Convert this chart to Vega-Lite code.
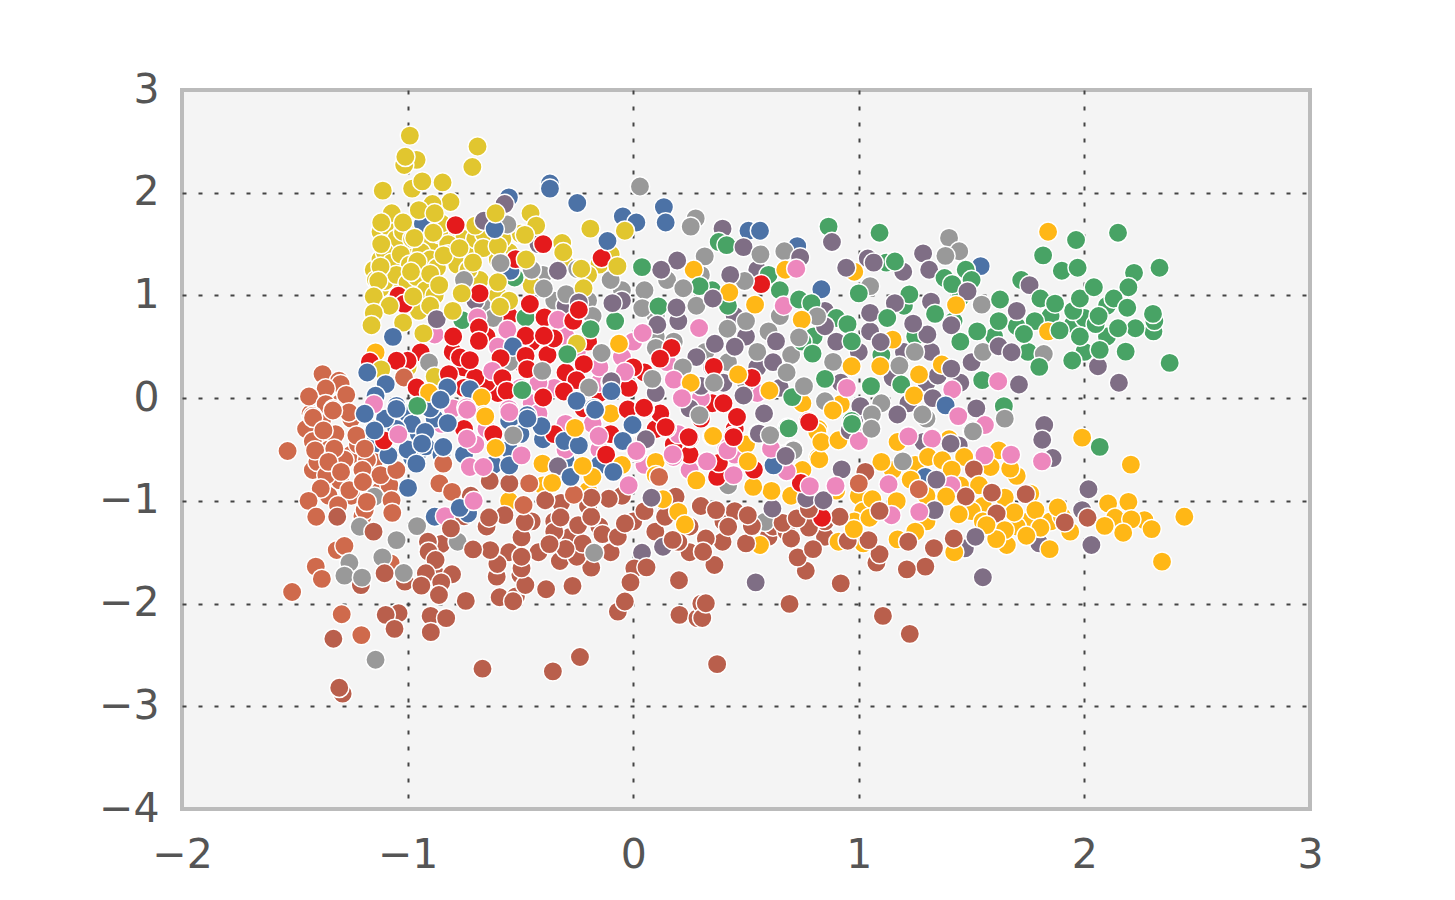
{
"$schema":"https://vega.github.io/schema/vega-lite/v6.json",
"width":1128,"height":719,
"autosize":{"type":"none"},
"padding":{"left":182,"top":90,"right":145,"bottom":91},
"background":"white",
"view":{"fill":"#f4f4f4","stroke":"#bbbbbb","strokeWidth":4},
"data":{"values":[
{"x":-0.65,"y":0.6,"c":"red"},{"x":-0.55,"y":0.8,"c":"red"},{"x":-0.45,"y":0.55,"c":"red"},{"x":-0.38,"y":0.42,"c":"red"},{"x":-0.3,"y":0.25,"c":"red"},{"x":-0.6,"y":0.05,"c":"red"},{"x":-0.65,"y":0.15,"c":"red"},{"x":-0.75,"y":0.3,"c":"red"},{"x":-0.15,"y":0.05,"c":"red"},{"x":-0.05,"y":0.2,"c":"red"},{"x":0.05,"y":0.25,"c":"red"},{"x":0.3,"y":-0.2,"c":"red"},{"x":0.35,"y":-0.05,"c":"red"},{"x":0.45,"y":-0.3,"c":"red"},{"x":-0.1,"y":-0.35,"c":"red"},{"x":0.1,"y":-0.3,"c":"red"},{"x":0.18,"y":-0.45,"c":"red"},
{"x":-0.45,"y":-0.05,"c":"pink"},{"x":-0.35,"y":0.1,"c":"pink"},{"x":-0.65,"y":-0.3,"c":"pink"},{"x":-0.85,"y":-0.25,"c":"pink"},{"x":-0.25,"y":0.45,"c":"pink"},{"x":-0.15,"y":0.15,"c":"pink"},{"x":0,"y":0.55,"c":"pink"},{"x":0.15,"y":0.35,"c":"pink"},{"x":0.3,"y":0,"c":"pink"},{"x":0.55,"y":0.05,"c":"pink"},{"x":-0.3,"y":-0.25,"c":"pink"},{"x":-0.15,"y":-0.5,"c":"pink"},{"x":0.05,"y":-0.65,"c":"pink"},{"x":0.25,"y":-0.7,"c":"pink"},{"x":0.45,"y":-0.55,"c":"pink"},
{"x":-0.35,"y":0.95,"c":"gray"},{"x":-0.2,"y":0.95,"c":"gray"},{"x":-0.05,"y":1.05,"c":"gray"},{"x":0.1,"y":0.8,"c":"gray"},{"x":0.18,"y":0.55,"c":"gray"},{"x":0.32,"y":0.45,"c":"gray"},{"x":0.42,"y":0.35,"c":"gray"},{"x":0.65,"y":0.8,"c":"gray"},{"x":0.6,"y":0.65,"c":"gray"},{"x":0.7,"y":0.42,"c":"gray"},{"x":0.15,"y":1.15,"c":"gray"},{"x":0.3,"y":1.2,"c":"gray"},{"x":-0.4,"y":1.2,"c":"gray"},{"x":-0.65,"y":0.9,"c":"gray"},
{"x":0.5,"y":0.6,"c":"purple"},{"x":0.55,"y":0.3,"c":"purple"},{"x":0.65,"y":0.1,"c":"purple"},{"x":0.4,"y":0.15,"c":"purple"},{"x":0.28,"y":0.4,"c":"purple"},{"x":0.85,"y":0.85,"c":"purple"},{"x":0.9,"y":0.55,"c":"purple"},{"x":1,"y":0.45,"c":"purple"},{"x":1.2,"y":0.45,"c":"purple"},{"x":1.3,"y":0.15,"c":"purple"},{"x":1.45,"y":0.15,"c":"purple"},{"x":0.45,"y":0.8,"c":"purple"},{"x":0.55,"y":1.25,"c":"purple"},
{"x":0.6,"y":1.2,"c":"green"},{"x":0.8,"y":0.6,"c":"green"},{"x":0.9,"y":0.78,"c":"green"},{"x":1.2,"y":0.9,"c":"green"},{"x":1.42,"y":0.75,"c":"green"},{"x":1.7,"y":0.7,"c":"green"},{"x":1.6,"y":0.6,"c":"green"},{"x":1.95,"y":0.72,"c":"green"},{"x":2.1,"y":0.6,"c":"green"},{"x":2,"y":0.78,"c":"green"},{"x":1.85,"y":0.8,"c":"green"},{"x":1.75,"y":0.45,"c":"green"},{"x":1.45,"y":0.98,"c":"green"},
{"x":1,"y":-0.95,"c":"amber"},{"x":1.25,"y":-0.65,"c":"amber"},{"x":1.4,"y":-0.4,"c":"amber"},{"x":0.75,"y":-0.7,"c":"amber"},{"x":0.9,"y":-0.9,"c":"amber"},{"x":1.55,"y":-1.05,"c":"amber"},{"x":1.75,"y":-1.2,"c":"amber"},{"x":0.65,"y":-0.55,"c":"amber"},{"x":0.5,"y":-0.45,"c":"amber"},{"x":1.3,"y":-1.2,"c":"amber"},{"x":0.1,"y":-0.62,"c":"amber"},{"x":-0.2,"y":-0.9,"c":"amber"},{"x":-0.4,"y":-0.85,"c":"amber"},{"x":-0.55,"y":-1,"c":"amber"},
{"x":-1,"y":-0.15,"c":"blue"},{"x":-1.15,"y":-0.45,"c":"blue"},{"x":-0.95,"y":-0.35,"c":"blue"},{"x":-0.75,"y":-0.55,"c":"blue"},{"x":-0.62,"y":-0.65,"c":"blue"},{"x":-0.4,"y":-0.4,"c":"blue"},{"x":-0.55,"y":-0.22,"c":"blue"},{"x":-0.3,"y":-0.6,"c":"blue"},{"x":-0.15,"y":-0.65,"c":"blue"},{"x":-0.88,"y":-0.2,"c":"blue"},{"x":-0.95,"y":-0.52,"c":"blue"},{"x":-0.98,"y":-0.58,"c":"blue"},
{"x":-1.25,"y":-0.55,"c":"rust"},{"x":-1.12,"y":-0.9,"c":"rust"},{"x":-1.42,"y":-0.7,"c":"rust"},{"x":-1.35,"y":-0.95,"c":"rust"},{"x":-1.2,"y":-1.15,"c":"rust"},{"x":-1.38,"y":-0.4,"c":"rust"},{"x":-1.15,"y":-0.62,"c":"rust"},{"x":-1.08,"y":-0.85,"c":"rust"},
{"x":-0.1,"y":-1.5,"c":"brown"},{"x":0,"y":-1.2,"c":"brown"},{"x":0.4,"y":-1.2,"c":"brown"},{"x":0.6,"y":-1.35,"c":"brown"},{"x":-0.35,"y":-1.2,"c":"brown"},{"x":-0.28,"y":-1.35,"c":"brown"},{"x":-0.65,"y":-1.25,"c":"brown"},{"x":-0.75,"y":-1.15,"c":"brown"},{"x":0.15,"y":-1.05,"c":"brown"},{"x":0.25,"y":-1.5,"c":"brown"},{"x":0.85,"y":-1.35,"c":"brown"},{"x":-0.42,"y":-1.5,"c":"brown"},
{"x":-1.1,"y":1.5,"c":"yellow"},{"x":-1,"y":1.48,"c":"yellow"},{"x":-0.8,"y":1.6,"c":"yellow"},{"x":-0.75,"y":1.55,"c":"yellow"},{"x":-0.95,"y":1.25,"c":"yellow"},{"x":-1.15,"y":1.25,"c":"yellow"},{"x":-0.85,"y":1.45,"c":"yellow"},{"x":-0.72,"y":1.42,"c":"yellow"},{"x":-0.55,"y":1.42,"c":"yellow"},{"x":-0.95,"y":1.65,"c":"yellow"},{"x":-1.05,"y":1.02,"c":"yellow"},{"x":-0.68,"y":1.15,"c":"yellow"},
{"x":-1.45,"y":-0.3,"c":"rust"},{"x":-1.42,"y":-0.42,"c":"rust"},{"x":-1.38,"y":-0.22,"c":"rust"},{"x":-1.35,"y":-0.5,"c":"rust"},{"x":-1.4,"y":-0.62,"c":"rust"},{"x":-1.32,"y":-0.35,"c":"rust"},{"x":-1.28,"y":-0.6,"c":"rust"},{"x":-1.25,"y":-0.2,"c":"rust"},{"x":-1.22,"y":-0.45,"c":"rust"},{"x":-1.18,"y":-0.6,"c":"rust"},{"x":-1.15,"y":-0.3,"c":"rust"},{"x":-1.3,"y":-0.8,"c":"rust"},{"x":-1.25,"y":-0.95,"c":"rust"},{"x":-1.2,"y":-0.7,"c":"rust"},{"x":-1.12,"y":-0.75,"c":"rust"},{"x":-1.36,"y":-0.75,"c":"rust"},{"x":-1.43,"y":-0.15,"c":"rust"},{"x":-1.3,"y":-0.05,"c":"rust"},{"x":-1.05,"y":-0.7,"c":"rust"},{"x":-1.08,"y":-0.55,"c":"rust"},
{"x":-1.12,"y":1.62,"c":"yellow"},{"x":-1.09,"y":1.68,"c":"yellow"},{"x":-1.05,"y":1.55,"c":"yellow"},{"x":-1.02,"y":1.62,"c":"yellow"},{"x":-0.98,"y":1.55,"c":"yellow"},{"x":-0.93,"y":1.6,"c":"yellow"},{"x":-0.9,"y":1.5,"c":"yellow"},{"x":-0.86,"y":1.6,"c":"yellow"},{"x":-0.82,"y":1.5,"c":"yellow"},{"x":-1.12,"y":1.35,"c":"yellow"},{"x":-1.1,"y":1.42,"c":"yellow"},{"x":-1.07,"y":1.32,"c":"yellow"},{"x":-1.03,"y":1.4,"c":"yellow"},{"x":-0.99,"y":1.3,"c":"yellow"},{"x":-0.94,"y":1.42,"c":"yellow"},{"x":-0.9,"y":1.35,"c":"yellow"},{"x":-0.87,"y":1.27,"c":"yellow"},{"x":-0.82,"y":1.4,"c":"yellow"},{"x":-0.78,"y":1.3,"c":"yellow"},{"x":-0.73,"y":1.25,"c":"yellow"},{"x":-1.14,"y":1.15,"c":"yellow"},{"x":-1.12,"y":1.07,"c":"yellow"},{"x":-1.1,"y":1.14,"c":"yellow"},{"x":-1.05,"y":1.2,"c":"yellow"},{"x":-1,"y":1.12,"c":"yellow"},{"x":-0.96,"y":1.18,"c":"yellow"},{"x":-0.92,"y":1.05,"c":"yellow"},{"x":-0.88,"y":1,"c":"yellow"},{"x":-0.7,"y":1.55,"c":"yellow"},{"x":-0.66,"y":1.6,"c":"yellow"},{"x":-0.6,"y":1.35,"c":"yellow"},{"x":-0.55,"y":1.2,"c":"yellow"},{"x":-0.5,"y":1.6,"c":"yellow"},{"x":-0.58,"y":1.55,"c":"yellow"},{"x":-0.3,"y":1.3,"c":"yellow"},{"x":-0.15,"y":1.3,"c":"yellow"},{"x":-0.1,"y":1.4,"c":"yellow"},{"x":-0.2,"y":1.2,"c":"yellow"},{"x":-0.45,"y":1.1,"c":"yellow"},{"x":-0.6,"y":1,"c":"yellow"},{"x":-0.95,"y":0.85,"c":"yellow"},{"x":-0.9,"y":0.9,"c":"yellow"},{"x":-0.55,"y":0.95,"c":"yellow"},{"x":-1,"y":0.3,"c":"yellow"},{"x":-1.15,"y":0.35,"c":"yellow"},{"x":-0.85,"y":1.7,"c":"yellow"},{"x":-0.92,"y":1.75,"c":"yellow"},
{"x":-0.75,"y":1.15,"c":"gray"},{"x":-0.7,"y":0.95,"c":"purple"},{"x":-0.45,"y":1.25,"c":"gray"},{"x":-0.42,"y":1.5,"c":"purple"},{"x":-0.3,"y":0.9,"c":"purple"},{"x":-0.1,"y":1.15,"c":"gray"},{"x":-0.05,"y":0.95,"c":"purple"},{"x":-0.18,"y":0.8,"c":"gray"},{"x":0.05,"y":1.05,"c":"gray"},{"x":0.1,"y":0.6,"c":"gray"},{"x":0.2,"y":0.75,"c":"purple"},{"x":0.28,"y":0.9,"c":"gray"},{"x":0.35,"y":1.05,"c":"green"},{"x":0.42,"y":0.9,"c":"green"},{"x":0.5,"y":0.75,"c":"gray"},{"x":0.55,"y":0.45,"c":"gray"},{"x":0.62,"y":0.35,"c":"purple"},{"x":0.68,"y":0.25,"c":"gray"},{"x":0.45,"y":0.5,"c":"purple"},{"x":0.35,"y":0.3,"c":"purple"},{"x":0.3,"y":0.12,"c":"purple"},{"x":0.22,"y":0.3,"c":"gray"},{"x":0.1,"y":0.05,"c":"purple"},{"x":0.25,"y":-0.1,"c":"purple"},{"x":0.4,"y":-0.05,"c":"red"},{"x":0.5,"y":0.15,"c":"gray"},{"x":0.58,"y":-0.15,"c":"purple"},{"x":0.75,"y":0.55,"c":"green"},{"x":0.85,"y":0.7,"c":"purple"},{"x":0.95,"y":0.72,"c":"green"},{"x":1.05,"y":0.65,"c":"purple"},{"x":1.1,"y":0.42,"c":"green"},{"x":1.15,"y":0.2,"c":"purple"},{"x":1.25,"y":0.6,"c":"green"},{"x":1.32,"y":0.45,"c":"purple"},{"x":1.45,"y":0.55,"c":"green"},{"x":1.35,"y":0.22,"c":"purple"},{"x":1.5,"y":0.35,"c":"purple"},{"x":1.55,"y":0.45,"c":"gray"},{"x":1.62,"y":0.75,"c":"green"},{"x":1.7,"y":0.85,"c":"purple"},{"x":1.78,"y":0.75,"c":"green"},{"x":1.95,"y":0.85,"c":"green"},{"x":2.05,"y":0.72,"c":"green"},{"x":2.1,"y":0.9,"c":"green"},{"x":2,"y":0.45,"c":"green"},{"x":0.92,"y":0.15,"c":"purple"},{"x":0.98,"y":-0.2,"c":"purple"},{"x":1.1,"y":-0.05,"c":"gray"},{"x":1.22,"y":-0.05,"c":"purple"},{"x":1.3,"y":-0.2,"c":"gray"},{"x":0.75,"y":-0.05,"c":"amber"},{"x":0.82,"y":-0.3,"c":"amber"},{"x":0.92,"y":-0.06,"c":"amber"},
{"x":-0.9,"y":-0.1,"c":"blue"},{"x":-0.98,"y":-0.25,"c":"blue"},{"x":-0.92,"y":-0.47,"c":"blue"},{"x":-1.05,"y":-0.3,"c":"blue"},{"x":-1.1,"y":-0.2,"c":"blue"},{"x":-1,"y":-0.5,"c":"blue"},{"x":-0.85,"y":-0.55,"c":"blue"},{"x":-0.75,"y":-0.3,"c":"red"},{"x":-0.8,"y":-0.1,"c":"pink"},{"x":-0.7,"y":-0.45,"c":"pink"},{"x":-0.62,"y":-0.35,"c":"red"},{"x":-0.55,"y":-0.5,"c":"blue"},{"x":-0.5,"y":-0.35,"c":"blue"},{"x":-0.42,"y":-0.15,"c":"pink"},{"x":-0.35,"y":-0.35,"c":"red"},{"x":-0.3,"y":-0.5,"c":"pink"},{"x":-0.22,"y":-0.1,"c":"red"},{"x":-0.18,"y":-0.25,"c":"pink"},{"x":-0.12,"y":-0.55,"c":"red"},{"x":-0.1,"y":-0.15,"c":"amber"},{"x":-0.05,"y":-0.65,"c":"amber"},{"x":0.05,"y":-0.4,"c":"red"},{"x":0.12,"y":-0.15,"c":"red"},{"x":0.2,"y":-0.35,"c":"pink"},{"x":0.25,"y":-0.55,"c":"red"},{"x":0.1,"y":-0.75,"c":"amber"},{"x":0.28,"y":-0.8,"c":"amber"},{"x":-0.5,"y":0.1,"c":"pink"},{"x":-0.6,"y":0.25,"c":"pink"},{"x":-0.7,"y":0.2,"c":"red"},{"x":-0.8,"y":0.45,"c":"red"},{"x":-0.6,"y":0.5,"c":"pink"},{"x":-0.5,"y":0.35,"c":"red"},{"x":-0.42,"y":0.15,"c":"pink"},{"x":-0.3,"y":0.6,"c":"pink"},{"x":-0.2,"y":0.55,"c":"red"},{"x":-0.15,"y":0.3,"c":"pink"},{"x":-0.05,"y":0.4,"c":"pink"},{"x":-0.08,"y":0.75,"c":"green"},{"x":0,"y":0.3,"c":"red"},{"x":-0.02,"y":0.1,"c":"red"},{"x":-0.1,"y":0.15,"c":"pink"},{"x":0.18,"y":0.18,"c":"pink"},{"x":-0.75,"y":0.1,"c":"red"},{"x":-0.88,"y":0.62,"c":"pink"},{"x":-0.62,"y":0.78,"c":"gray"},{"x":-0.55,"y":0.35,"c":"gray"},
{"x":-0.2,"y":-1.05,"c":"brown"},{"x":-0.32,"y":-1.02,"c":"brown"},{"x":-0.45,"y":-1.2,"c":"brown"},{"x":-0.35,"y":-1.3,"c":"brown"},{"x":-0.15,"y":-1.25,"c":"brown"},{"x":-0.05,"y":-0.95,"c":"brown"},{"x":0.05,"y":-1.1,"c":"brown"},{"x":0.25,"y":-1.25,"c":"brown"},{"x":0.3,"y":-1.05,"c":"brown"},{"x":0.2,"y":-1.4,"c":"brown"},{"x":0.45,"y":-1.1,"c":"brown"},{"x":0.62,"y":-1.25,"c":"brown"},{"x":0.68,"y":-1.3,"c":"brown"},{"x":0.75,"y":-1.15,"c":"brown"},{"x":0.85,"y":-1.2,"c":"brown"},{"x":-0.72,"y":-0.95,"c":"brown"},{"x":-0.55,"y":-1.5,"c":"brown"},{"x":-0.85,"y":-1.42,"c":"brown"},{"x":-0.88,"y":-1.7,"c":"brown"},{"x":-0.5,"y":-1.72,"c":"brown"},{"x":1.25,"y":-1.3,"c":"amber"},{"x":1.5,"y":-1.1,"c":"amber"},{"x":1.55,"y":-1.2,"c":"amber"},{"x":1.7,"y":-1.25,"c":"amber"},{"x":1.85,"y":-1.2,"c":"amber"},{"x":1.9,"y":-1.15,"c":"amber"},{"x":1.65,"y":-1.05,"c":"amber"},{"x":1.3,"y":-0.95,"c":"amber"},{"x":1.15,"y":-0.7,"c":"amber"},{"x":1.45,"y":-0.85,"c":"amber"},{"x":1.02,"y":-1.1,"c":"amber"},{"x":0.98,"y":-1.2,"c":"amber"},{"x":0.7,"y":-0.95,"c":"amber"},
{"x":-0.99,"y":2.556,"c":"yellow"},{"x":-0.69,"y":2.45,"c":"yellow"},{"x":-0.713,"y":2.25,"c":"yellow"},{"x":-0.96,"y":2.32,"c":"yellow"},{"x":-1.015,"y":2.27,"c":"yellow"},{"x":-1.01,"y":2.35,"c":"yellow"},{"x":-1.11,"y":2.02,"c":"yellow"},{"x":-0.98,"y":2.04,"c":"yellow"},{"x":-0.935,"y":2.11,"c":"yellow"},{"x":-0.845,"y":2.1,"c":"yellow"},{"x":-0.81,"y":1.91,"c":"yellow"},{"x":-0.89,"y":1.89,"c":"yellow"},{"x":-0.932,"y":1.695,"c":"blue"},{"x":-0.95,"y":1.83,"c":"yellow"},{"x":-0.88,"y":1.8,"c":"yellow"},{"x":-1.07,"y":1.8,"c":"yellow"},{"x":-1.117,"y":1.71,"c":"yellow"},{"x":-1.02,"y":1.71,"c":"yellow"},{"x":-0.787,"y":1.685,"c":"red"},{"x":-0.886,"y":1.61,"c":"yellow"},{"x":-0.97,"y":1.56,"c":"yellow"},{"x":-1.117,"y":1.5,"c":"yellow"},{"x":-0.84,"y":1.39,"c":"yellow"},{"x":-0.957,"y":1.33,"c":"yellow"},{"x":-1.12,"y":1.28,"c":"yellow"},{"x":-0.985,"y":1.23,"c":"yellow"},{"x":-0.9,"y":1.21,"c":"yellow"},{"x":-1.13,"y":1.14,"c":"yellow"},{"x":-1.041,"y":0.997,"c":"red"},{"x":-1.15,"y":0.99,"c":"yellow"},{"x":-1.016,"y":0.916,"c":"red"},{"x":-1.08,"y":0.9,"c":"yellow"},{"x":-1.15,"y":0.83,"c":"yellow"},{"x":-0.871,"y":0.769,"c":"purple"},{"x":-1.02,"y":0.735,"c":"yellow"},{"x":-1.16,"y":0.71,"c":"yellow"},{"x":-0.93,"y":0.63,"c":"yellow"},{"x":-0.975,"y":0.99,"c":"yellow"},{"x":-0.86,"y":1.1,"c":"yellow"},{"x":-0.7,"y":1.68,"c":"yellow"},{"x":-0.77,"y":1.46,"c":"yellow"},{"x":-0.665,"y":1.46,"c":"yellow"},{"x":-0.71,"y":1.32,"c":"yellow"},{"x":-0.6,"y":1.48,"c":"yellow"},{"x":-0.551,"y":1.955,"c":"blue"},{"x":-0.57,"y":1.89,"c":"purple"},{"x":-0.558,"y":1.69,"c":"gray"},{"x":-0.662,"y":1.727,"c":"purple"},{"x":-0.614,"y":1.646,"c":"blue"},{"x":-0.61,"y":1.8,"c":"yellow"},{"x":-0.455,"y":1.8,"c":"yellow"},{"x":-0.43,"y":1.68,"c":"yellow"},{"x":-0.48,"y":1.59,"c":"yellow"},{"x":-0.315,"y":1.51,"c":"yellow"},{"x":-0.31,"y":1.42,"c":"yellow"},{"x":-0.399,"y":1.5,"c":"red"},{"x":-0.369,"y":2.09,"c":"blue"},{"x":-0.369,"y":2.04,"c":"blue"},{"x":-0.248,"y":1.9,"c":"blue"},{"x":-0.19,"y":1.65,"c":"yellow"},{"x":-0.526,"y":1.175,"c":"green"},{"x":-0.544,"y":1.24,"c":"blue"},{"x":-0.521,"y":1.354,"c":"red"},{"x":-0.588,"y":1.315,"c":"gray"},{"x":-0.475,"y":1.35,"c":"yellow"},{"x":-0.334,"y":1.24,"c":"purple"},{"x":-0.248,"y":1.257,"c":"gray"},{"x":-0.23,"y":1.26,"c":"yellow"},{"x":-0.14,"y":1.364,"c":"red"},{"x":-0.396,"y":1.068,"c":"gray"},{"x":-0.297,"y":1.013,"c":"gray"},{"x":-0.22,"y":1.07,"c":"yellow"},{"x":-0.681,"y":1.02,"c":"red"},{"x":-0.758,"y":0.76,"c":"green"},{"x":-0.76,"y":1.02,"c":"yellow"},{"x":-0.8,"y":0.85,"c":"yellow"},{"x":-0.6,"y":1.13,"c":"yellow"},{"x":-0.59,"y":0.89,"c":"yellow"},
{"x":-1.065,"y":0.597,"c":"blue"},{"x":-0.691,"y":0.786,"c":"pink"},{"x":-0.684,"y":0.688,"c":"red"},{"x":-0.798,"y":0.6,"c":"red"},{"x":-0.684,"y":0.558,"c":"red"},{"x":-0.558,"y":0.666,"c":"pink"},{"x":-0.477,"y":0.786,"c":"green"},{"x":-0.458,"y":0.916,"c":"red"},{"x":-0.393,"y":0.786,"c":"red"},{"x":-0.334,"y":0.763,"c":"pink"},{"x":-0.477,"y":0.607,"c":"red"},{"x":-0.352,"y":0.581,"c":"red"},{"x":-0.396,"y":0.607,"c":"red"},{"x":-0.533,"y":0.503,"c":"blue"},{"x":-0.266,"y":0.753,"c":"red"},{"x":-0.241,"y":0.932,"c":"purple"},{"x":-0.241,"y":0.86,"c":"red"},{"x":-0.189,"y":0.672,"c":"green"},{"x":-0.25,"y":0.53,"c":"yellow"},{"x":-0.292,"y":0.429,"c":"green"},{"x":-0.477,"y":0.412,"c":"red"},{"x":-0.942,"y":0.445,"c":"red"},{"x":-1.142,"y":0.445,"c":"amber"},{"x":-0.905,"y":0.347,"c":"gray"},{"x":-1,"y":0.364,"c":"red"},{"x":-1.049,"y":0.364,"c":"red"},{"x":-1.167,"y":0.354,"c":"red"},{"x":-1.117,"y":0.28,"c":"yellow"},{"x":-1.179,"y":0.25,"c":"blue"},{"x":-0.88,"y":0.21,"c":"yellow"},{"x":-0.817,"y":0.234,"c":"red"},{"x":-1.016,"y":0.201,"c":"rust"},{"x":-1.097,"y":0.136,"c":"blue"},{"x":-0.96,"y":0.104,"c":"red"},{"x":-0.824,"y":0.104,"c":"blue"},{"x":-0.905,"y":0.055,"c":"amber"},{"x":-1.142,"y":0.023,"c":"blue"},{"x":-0.854,"y":-0.016,"c":"blue"},{"x":-0.768,"y":0.396,"c":"red"},{"x":-0.724,"y":0.37,"c":"red"},{"x":-0.588,"y":0.39,"c":"red"},{"x":-0.625,"y":0.266,"c":"pink"},{"x":-0.58,"y":0.195,"c":"red"},{"x":-0.561,"y":0.071,"c":"red"},{"x":-0.492,"y":0.078,"c":"green"},{"x":-0.47,"y":0.282,"c":"red"},{"x":-0.403,"y":0.266,"c":"gray"},{"x":-0.219,"y":0.331,"c":"red"},{"x":-0.251,"y":0.175,"c":"red"},{"x":-0.196,"y":0.104,"c":"gray"},{"x":-0.307,"y":0.065,"c":"red"},{"x":-0.251,"y":-0.026,"c":"blue"},{"x":-0.174,"y":-0.097,"c":"blue"},{"x":-0.399,"y":0.006,"c":"red"},{"x":-0.724,"y":0.088,"c":"blue"},{"x":-0.672,"y":0.006,"c":"amber"},{"x":-0.739,"y":-0.09,"c":"pink"},{"x":-0.662,"y":-0.166,"c":"amber"},{"x":-0.551,"y":-0.107,"c":"pink"},{"x":-0.47,"y":-0.166,"c":"blue"},{"x":-1.149,"y":-0.058,"c":"pink"},{"x":-1.049,"y":-0.075,"c":"blue"},{"x":-0.957,"y":-0.075,"c":"green"},
{"x":-1.377,"y":0.234,"c":"rust"},{"x":-1.304,"y":0.169,"c":"rust"},{"x":-1.297,"y":0.136,"c":"rust"},{"x":-1.363,"y":0.094,"c":"rust"},{"x":-1.272,"y":0.032,"c":"rust"},{"x":-1.437,"y":0.016,"c":"rust"},{"x":-1.363,"y":-0.058,"c":"rust"},{"x":-1.329,"y":-0.107,"c":"rust"},{"x":-1.422,"y":-0.172,"c":"rust"},{"x":-1.26,"y":-0.14,"c":"rust"},{"x":-1.419,"y":-0.191,"c":"rust"},{"x":-1.331,"y":-0.12,"c":"rust"},{"x":-1.373,"y":-0.314,"c":"rust"},{"x":-1.227,"y":-0.362,"c":"rust"},{"x":-1.41,"y":-0.508,"c":"rust"},{"x":-1.325,"y":-0.492,"c":"rust"},{"x":-1.19,"y":-0.492,"c":"rust"},{"x":-1.351,"y":-0.621,"c":"rust"},{"x":-1.295,"y":-0.718,"c":"rust"},{"x":-1.532,"y":-0.515,"c":"rust"},{"x":-1.385,"y":-0.88,"c":"rust"},{"x":-1.439,"y":-1,"c":"rust"},{"x":-1.308,"y":-1.042,"c":"rust"},{"x":-1.258,"y":-0.896,"c":"rust"},{"x":-1.198,"y":-0.816,"c":"rust"},{"x":-1.312,"y":-1.155,"c":"brown"},{"x":-1.405,"y":-1.155,"c":"rust"},{"x":-1.147,"y":-0.96,"c":"gray"},{"x":-1.19,"y":-1.09,"c":"rust"},{"x":-1.181,"y":-1.01,"c":"rust"},{"x":-1.071,"y":-0.994,"c":"rust"},{"x":-1.068,"y":-1.117,"c":"rust"},{"x":-1.212,"y":-1.252,"c":"gray"},{"x":-1.151,"y":-1.3,"c":"brown"},{"x":-0.958,"y":-1.246,"c":"gray"},{"x":-0.88,"y":-1.155,"c":"blue"},{"x":-0.834,"y":-1.149,"c":"pink"},{"x":-0.778,"y":-1.398,"c":"gray"},{"x":-0.808,"y":-1.268,"c":"brown"},{"x":-1.049,"y":-1.382,"c":"gray"},{"x":-1.075,"y":-1.608,"c":"rust"},{"x":-1.112,"y":-1.55,"c":"gray"},{"x":-1.314,"y":-1.479,"c":"rust"},{"x":-1.28,"y":-1.44,"c":"rust"},{"x":-1.407,"y":-1.64,"c":"rust"},{"x":-1.38,"y":-1.76,"c":"rust"},{"x":-1.258,"y":-1.602,"c":"gray"},{"x":-1.207,"y":-1.82,"c":"brown"},{"x":-1.28,"y":-1.728,"c":"gray"},{"x":-1.202,"y":-1.748,"c":"gray"},{"x":-1.012,"y":-1.786,"c":"brown"},{"x":-1.017,"y":-1.702,"c":"gray"},{"x":-1.102,"y":-1.705,"c":"brown"},{"x":-1.512,"y":-1.887,"c":"rust"},{"x":-1.142,"y":-2.547,"c":"gray"},{"x":-1.288,"y":-2.877,"c":"brown"},{"x":-1.303,"y":-2.82,"c":"brown"},{"x":-1.329,"y":-2.343,"c":"brown"},{"x":-1.205,"y":-2.307,"c":"rust"},{"x":-1.292,"y":-2.104,"c":"rust"},{"x":-1.04,"y":-2.094,"c":"brown"},{"x":-1.097,"y":-2.11,"c":"brown"},{"x":-1.058,"y":-2.246,"c":"brown"},{"x":-0.898,"y":-2.12,"c":"brown"},{"x":-0.829,"y":-2.142,"c":"brown"},{"x":-0.897,"y":-2.278,"c":"brown"},{"x":-0.742,"y":-1.974,"c":"brown"},{"x":-0.668,"y":-2.634,"c":"brown"},{"x":-0.356,"y":-2.66,"c":"brown"},{"x":-0.236,"y":-2.52,"c":"brown"},{"x":-0.592,"y":-1.939,"c":"brown"},{"x":-0.52,"y":-1.93,"c":"brown"},{"x":-0.532,"y":-1.977,"c":"brown"},{"x":-0.478,"y":-1.819,"c":"brown"},{"x":-0.386,"y":-1.861,"c":"brown"},{"x":-0.269,"y":-1.828,"c":"brown"},{"x":-0.605,"y":-1.738,"c":"brown"},{"x":-0.602,"y":-1.615,"c":"brown"},{"x":-0.495,"y":-1.62,"c":"brown"},{"x":-0.495,"y":-1.657,"c":"brown"},{"x":-0.495,"y":-1.544,"c":"brown"},{"x":-0.634,"y":-1.479,"c":"brown"},{"x":-0.71,"y":-1.473,"c":"brown"},{"x":-0.91,"y":-1.398,"c":"brown"},{"x":-0.907,"y":-1.495,"c":"brown"},{"x":-0.876,"y":-1.576,"c":"brown"},{"x":-0.803,"y":-1.715,"c":"brown"},{"x":-0.919,"y":-1.705,"c":"brown"},{"x":-0.851,"y":-1.793,"c":"brown"},{"x":-0.939,"y":-1.825,"c":"brown"},{"x":-0.861,"y":-1.916,"c":"brown"},{"x":-0.325,"y":-1.586,"c":"brown"},{"x":-0.186,"y":-1.65,"c":"brown"},{"x":-0.25,"y":-1.544,"c":"brown"},{"x":-0.224,"y":-1.414,"c":"brown"},{"x":-0.3,"y":-1.469,"c":"brown"},{"x":-0.371,"y":-1.421,"c":"brown"},{"x":-0.495,"y":-1.356,"c":"brown"},{"x":-0.481,"y":-1.207,"c":"brown"},{"x":-0.571,"y":-1.139,"c":"brown"},{"x":-0.639,"y":-1.162,"c":"brown"},{"x":-0.322,"y":-1.162,"c":"brown"},{"x":-0.244,"y":-1.236,"c":"brown"},{"x":-0.186,"y":-1.155,"c":"brown"},{"x":-0.173,"y":-1.505,"c":"gray"},{"x":-0.136,"y":-1.324,"c":"brown"},{"x":-0.068,"y":-1.35,"c":"brown"},{"x":-0.037,"y":-1.22,"c":"brown"},{"x":-0.108,"y":-0.98,"c":"brown"},{"x":-0.185,"y":-0.97,"c":"brown"},{"x":-0.263,"y":-0.94,"c":"rust"},{"x":-0.461,"y":-0.83,"c":"rust"},{"x":-0.549,"y":-0.83,"c":"brown"},{"x":-0.636,"y":-0.806,"c":"brown"},{"x":-0.486,"y":-1.04,"c":"rust"},{"x":-0.39,"y":-0.994,"c":"brown"},{"x":0.098,"y":-1.3,"c":"brown"},{"x":0.132,"y":-1.447,"c":"purple"},{"x":0.175,"y":-1.38,"c":"brown"},{"x":0.141,"y":-1.155,"c":"brown"},{"x":0.188,"y":-0.96,"c":"brown"},{"x":0.039,"y":-1.505,"c":"purple"},{"x":0.005,"y":-1.657,"c":"brown"},{"x":0.059,"y":-1.647,"c":"brown"},{"x":-0.012,"y":-1.793,"c":"brown"},{"x":-0.068,"y":-2.078,"c":"brown"},{"x":-0.037,"y":-1.98,"c":"brown"},{"x":0.203,"y":-1.773,"c":"brown"},{"x":0.205,"y":-2.11,"c":"brown"},{"x":0.285,"y":-2.142,"c":"brown"},{"x":0.302,"y":-2,"c":"brown"},{"x":0.306,"y":-2.14,"c":"brown"},{"x":0.322,"y":-1.997,"c":"brown"},{"x":0.372,"y":-2.59,"c":"brown"},{"x":0.132,"y":-0.984,"c":"amber"},{"x":0.081,"y":-0.97,"c":"purple"},{"x":0.2,"y":-1.107,"c":"amber"},{"x":0.229,"y":-1.23,"c":"amber"},{"x":-0.181,"y":-0.767,"c":"amber"},{"x":0.115,"y":-0.767,"c":"rust"},{"x":-0.02,"y":-0.848,"c":"pink"},
{"x":-0.998,"y":-0.874,"c":"blue"},{"x":-0.859,"y":-0.83,"c":"rust"},{"x":-0.803,"y":-0.913,"c":"rust"},{"x":-0.732,"y":-1.123,"c":"blue"},{"x":-0.769,"y":-1.068,"c":"blue"},{"x":-0.707,"y":-1,"c":"pink"},{"x":-0.842,"y":-0.637,"c":"rust"},{"x":-0.961,"y":-0.637,"c":"blue"},{"x":-1.085,"y":-0.557,"c":"blue"},{"x":-1.105,"y":-0.411,"c":"red"},{"x":-1.041,"y":-0.353,"c":"pink"},{"x":-0.922,"y":-0.33,"c":"blue"},{"x":-0.936,"y":-0.443,"c":"blue"},{"x":-0.842,"y":-0.476,"c":"blue"},{"x":-0.737,"y":-0.395,"c":"pink"},{"x":-0.724,"y":-0.67,"c":"pink"},{"x":-0.664,"y":-0.67,"c":"pink"},{"x":-0.61,"y":-0.485,"c":"amber"},{"x":-0.549,"y":-0.654,"c":"blue"},{"x":-0.495,"y":-0.557,"c":"pink"},{"x":-0.532,"y":-0.362,"c":"gray"},{"x":-0.402,"y":-0.637,"c":"amber"},{"x":-0.334,"y":-0.663,"c":"purple"},{"x":-0.359,"y":-0.825,"c":"amber"},{"x":-0.278,"y":-0.767,"c":"blue"},{"x":-0.224,"y":-0.66,"c":"amber"},{"x":-0.088,"y":-0.718,"c":"blue"},{"x":-0.305,"y":-0.417,"c":"blue"},{"x":-0.241,"y":-0.46,"c":"blue"},{"x":-0.153,"y":-0.369,"c":"pink"},{"x":-0.258,"y":-0.29,"c":"amber"},{"x":-0.407,"y":-0.272,"c":"blue"},{"x":-0.469,"y":-0.2,"c":"blue"},{"x":-0.169,"y":-0.113,"c":"blue"},{"x":-0.046,"y":-0.427,"c":"blue"},{"x":-0.003,"y":-0.272,"c":"blue"},{"x":-0.02,"y":-0.12,"c":"red"},{"x":0.051,"y":-0.104,"c":"red"},{"x":0.149,"y":-0.291,"c":"red"},{"x":0.251,"y":-0.388,"c":"red"},{"x":0.014,"y":-0.531,"c":"pink"},{"x":0.056,"y":-0.41,"c":"purple"},{"x":0.178,"y":-0.573,"c":"pink"},{"x":-0.736,"y":-0.113,"c":"pink"},{"x":-0.656,"y":-0.178,"c":"amber"},{"x":-0.549,"y":-0.136,"c":"pink"},{"x":-1.05,"y":-0.104,"c":"blue"},{"x":-1.19,"y":-0.152,"c":"blue"},{"x":-0.822,"y":-0.243,"c":"blue"},{"x":-1.147,"y":-0.314,"c":"blue"},
{"x":0.03,"y":2.06,"c":"gray"},{"x":0.136,"y":1.86,"c":"blue"},{"x":0.144,"y":1.71,"c":"blue"},{"x":-0.046,"y":1.77,"c":"blue"},{"x":0.014,"y":1.71,"c":"blue"},{"x":0.277,"y":1.75,"c":"gray"},{"x":0.255,"y":1.67,"c":"gray"},{"x":-0.037,"y":1.63,"c":"yellow"},{"x":-0.114,"y":1.53,"c":"blue"},{"x":-0.07,"y":1.285,"c":"yellow"},{"x":0.396,"y":1.65,"c":"purple"},{"x":0.511,"y":1.63,"c":"blue"},{"x":0.562,"y":1.63,"c":"blue"},{"x":0.379,"y":1.52,"c":"green"},{"x":0.414,"y":1.49,"c":"green"},{"x":0.489,"y":1.47,"c":"purple"},{"x":0.564,"y":1.4,"c":"gray"},{"x":0.866,"y":1.67,"c":"green"},{"x":0.881,"y":1.52,"c":"purple"},{"x":1.092,"y":1.61,"c":"green"},{"x":1.4,"y":1.56,"c":"gray"},{"x":1.445,"y":1.43,"c":"gray"},{"x":1.384,"y":1.385,"c":"gray"},{"x":1.285,"y":1.41,"c":"purple"},{"x":1.839,"y":1.62,"c":"amber"},{"x":1.963,"y":1.54,"c":"green"},{"x":2.149,"y":1.61,"c":"green"},{"x":1.817,"y":1.39,"c":"green"},{"x":1.9,"y":1.24,"c":"green"},{"x":1.97,"y":1.27,"c":"green"},{"x":2.22,"y":1.22,"c":"green"},{"x":2.333,"y":1.27,"c":"green"},{"x":1.54,"y":1.285,"c":"blue"},{"x":1.197,"y":1.23,"c":"purple"},{"x":1.312,"y":1.25,"c":"purple"},{"x":1.122,"y":1.32,"c":"green"},{"x":1.16,"y":1.33,"c":"green"},{"x":1.04,"y":1.36,"c":"purple"},{"x":1.066,"y":1.32,"c":"purple"},{"x":0.98,"y":1.23,"c":"amber"},{"x":0.944,"y":1.27,"c":"purple"},{"x":0.834,"y":1.06,"c":"blue"},{"x":0.727,"y":1.48,"c":"blue"},{"x":0.67,"y":1.43,"c":"gray"},{"x":0.74,"y":1.37,"c":"purple"},{"x":0.674,"y":1.25,"c":"amber"},{"x":0.723,"y":1.26,"c":"pink"},{"x":0.65,"y":1.05,"c":"green"},{"x":0.567,"y":1.11,"c":"red"},{"x":0.494,"y":1.14,"c":"gray"},{"x":0.43,"y":1.2,"c":"purple"},{"x":0.426,"y":1.03,"c":"amber"},{"x":0.317,"y":1.38,"c":"gray"},{"x":0.268,"y":1.25,"c":"amber"},{"x":0.195,"y":1.34,"c":"purple"},{"x":0.124,"y":1.25,"c":"purple"},{"x":0.039,"y":1.275,"c":"green"},{"x":0.294,"y":1.09,"c":"green"},{"x":0.222,"y":1.07,"c":"gray"},{"x":0.353,"y":0.97,"c":"purple"},{"x":0.54,"y":0.91,"c":"amber"},{"x":0.667,"y":0.9,"c":"pink"},{"x":0.735,"y":0.96,"c":"green"},{"x":0.79,"y":0.925,"c":"green"},{"x":1.05,"y":1.09,"c":"gray"},{"x":1,"y":1.02,"c":"green"},{"x":1.224,"y":1.01,"c":"green"},{"x":1.16,"y":0.925,"c":"purple"},{"x":1.05,"y":0.83,"c":"purple"},{"x":1.32,"y":0.94,"c":"purple"},{"x":1.338,"y":0.82,"c":"green"},{"x":1.38,"y":1.17,"c":"green"},{"x":1.414,"y":1.11,"c":"green"},{"x":1.474,"y":1.25,"c":"green"},{"x":1.5,"y":1.15,"c":"green"},{"x":1.482,"y":1.04,"c":"purple"},{"x":1.431,"y":0.906,"c":"amber"},{"x":1.545,"y":0.91,"c":"gray"},{"x":1.626,"y":0.96,"c":"green"},{"x":1.72,"y":1.15,"c":"green"},{"x":1.757,"y":1.1,"c":"purple"},{"x":1.805,"y":0.97,"c":"green"},{"x":1.87,"y":0.92,"c":"green"},{"x":1.98,"y":0.97,"c":"green"},{"x":2.042,"y":1.08,"c":"green"},{"x":2.195,"y":1.08,"c":"green"},{"x":2.13,"y":0.97,"c":"green"},{"x":2.19,"y":0.88,"c":"green"},{"x":2.063,"y":0.8,"c":"green"},{"x":2.306,"y":0.65,"c":"green"},{"x":2.31,"y":0.75,"c":"green"},{"x":2.304,"y":0.82,"c":"green"},{"x":2.226,"y":0.68,"c":"green"},{"x":2.149,"y":0.68,"c":"green"},{"x":1.98,"y":0.6,"c":"green"},{"x":1.839,"y":0.65,"c":"amber"},{"x":1.89,"y":0.66,"c":"green"},{"x":1.732,"y":0.625,"c":"green"},{"x":1.62,"y":0.505,"c":"purple"},{"x":1.525,"y":0.65,"c":"green"},{"x":1.41,"y":0.71,"c":"purple"},{"x":1.304,"y":0.62,"c":"purple"},{"x":1.241,"y":0.725,"c":"purple"},{"x":1.126,"y":0.78,"c":"green"},{"x":1.15,"y":0.57,"c":"amber"},{"x":1.097,"y":0.547,"c":"purple"},{"x":0.815,"y":0.796,"c":"gray"},{"x":0.747,"y":0.764,"c":"amber"},{"x":0.735,"y":0.592,"c":"gray"},{"x":0.633,"y":0.553,"c":"purple"},{"x":0.418,"y":0.676,"c":"gray"},{"x":0.292,"y":0.683,"c":"pink"},{"x":0.362,"y":0.53,"c":"purple"},{"x":0.969,"y":0.553,"c":"green"},{"x":0.795,"y":0.434,"c":"green"},{"x":0.886,"y":0.353,"c":"gray"},{"x":0.968,"y":0.31,"c":"amber"},{"x":1.095,"y":0.31,"c":"amber"},{"x":1.18,"y":0.317,"c":"gray"},{"x":1.248,"y":0.45,"c":"gray"},{"x":1.267,"y":0.23,"c":"amber"},{"x":1.368,"y":0.327,"c":"amber"},{"x":1.41,"y":0.288,"c":"purple"},{"x":1.547,"y":0.175,"c":"green"},{"x":1.618,"y":0.165,"c":"pink"},{"x":1.71,"y":0.133,"c":"purple"},{"x":2.153,"y":0.15,"c":"purple"},{"x":2.378,"y":0.343,"c":"green"},{"x":2.06,"y":0.31,"c":"purple"},{"x":2.068,"y":0.47,"c":"green"},{"x":2.183,"y":0.453,"c":"green"},{"x":1.946,"y":0.366,"c":"green"},{"x":1.82,"y":0.43,"c":"gray"},{"x":1.8,"y":0.304,"c":"green"},{"x":1.677,"y":0.447,"c":"purple"},
{"x":0.04,"y":0.877,"c":"gray"},{"x":0.112,"y":0.893,"c":"green"},{"x":0.192,"y":0.883,"c":"purple"},{"x":-0.092,"y":0.925,"c":"purple"},{"x":0.107,"y":0.715,"c":"purple"},{"x":0.042,"y":0.634,"c":"pink"},{"x":-0.063,"y":0.53,"c":"amber"},{"x":-0.14,"y":0.44,"c":"gray"},{"x":0.1,"y":0.49,"c":"gray"},{"x":-0.037,"y":0.256,"c":"pink"},{"x":-0.097,"y":0.165,"c":"purple"},{"x":-0.097,"y":0.068,"c":"blue"},{"x":0.17,"y":0.489,"c":"red"},{"x":0.119,"y":0.385,"c":"red"},{"x":0.085,"y":0.188,"c":"gray"},{"x":0.357,"y":0.304,"c":"red"},{"x":0.255,"y":0.15,"c":"amber"},{"x":0.358,"y":0.15,"c":"gray"},{"x":0.526,"y":0.197,"c":"red"},{"x":0.465,"y":0.23,"c":"amber"},{"x":0.604,"y":0.074,"c":"amber"},{"x":0.489,"y":0.026,"c":"purple"},{"x":0.216,"y":0,"c":"pink"},{"x":0.705,"y":0.01,"c":"green"},{"x":0.757,"y":0.117,"c":"gray"},{"x":0.85,"y":0.188,"c":"green"},{"x":0.85,"y":-0.03,"c":"gray"},{"x":0.947,"y":0.1,"c":"pink"},{"x":1.054,"y":0.117,"c":"green"},{"x":1.188,"y":0.133,"c":"green"},{"x":1.245,"y":0.026,"c":"amber"},{"x":1.328,"y":0,"c":"purple"},{"x":1.414,"y":0.084,"c":"pink"},{"x":1.385,"y":-0.07,"c":"blue"},{"x":1.521,"y":-0.1,"c":"purple"},{"x":1.643,"y":-0.078,"c":"green"},{"x":1.647,"y":-0.2,"c":"gray"},{"x":1.441,"y":-0.175,"c":"pink"},{"x":1.282,"y":-0.159,"c":"gray"},{"x":1.171,"y":-0.159,"c":"purple"},{"x":1.007,"y":-0.078,"c":"purple"},{"x":1.058,"y":-0.159,"c":"gray"},{"x":0.968,"y":-0.223,"c":"green"},{"x":0.885,"y":-0.12,"c":"amber"},{"x":0.776,"y":-0.223,"c":"red"},{"x":1.503,"y":-0.314,"c":"gray"},{"x":1.559,"y":-0.262,"c":"pink"},{"x":1.822,"y":-0.262,"c":"purple"},{"x":1.813,"y":-0.405,"c":"purple"},{"x":1.99,"y":-0.385,"c":"amber"},{"x":2.068,"y":-0.475,"c":"green"},{"x":1.443,"y":-0.46,"c":"purple"},{"x":1.324,"y":-0.385,"c":"pink"},{"x":1.219,"y":-0.37,"c":"pink"},{"x":0.998,"y":-0.417,"c":"pink"},{"x":0.684,"y":-0.288,"c":"green"},{"x":0.553,"y":-0.343,"c":"purple"},{"x":0.441,"y":-0.369,"c":"red"},{"x":0.35,"y":-0.369,"c":"amber"},{"x":0.246,"y":-0.379,"c":"red"},{"x":0.144,"y":-0.282,"c":"red"},{"x":0.294,"y":-0.165,"c":"gray"},{"x":0.46,"y":-0.184,"c":"red"},{"x":-0.024,"y":-0.11,"c":"red"},{"x":0.048,"y":-0.094,"c":"red"},{"x":-0.003,"y":-0.262,"c":"blue"},{"x":0.056,"y":-0.4,"c":"purple"},{"x":-0.046,"y":-0.417,"c":"blue"},{"x":0.014,"y":-0.515,"c":"pink"},{"x":0.175,"y":-0.547,"c":"pink"},{"x":0.413,"y":-0.482,"c":"pink"},{"x":0.71,"y":-0.5,"c":"gray"},{"x":0.676,"y":-0.547,"c":"purple"},{"x":0.82,"y":-0.58,"c":"amber"},
{"x":2.206,"y":-0.647,"c":"amber"},{"x":1.859,"y":-0.583,"c":"purple"},{"x":1.812,"y":-0.615,"c":"pink"},{"x":1.62,"y":-0.508,"c":"amber"},{"x":1.7,"y":-0.757,"c":"amber"},{"x":1.671,"y":-0.686,"c":"amber"},{"x":1.675,"y":-0.55,"c":"pink"},{"x":1.584,"y":-0.67,"c":"amber"},{"x":1.557,"y":-0.557,"c":"pink"},{"x":1.506,"y":-0.324,"c":"gray"},{"x":1.286,"y":-0.427,"c":"purple"},{"x":1.325,"y":-0.395,"c":"pink"},{"x":1.172,"y":-0.427,"c":"amber"},{"x":1.22,"y":-0.372,"c":"pink"},{"x":1.407,"y":-0.443,"c":"purple"},{"x":1.467,"y":-0.573,"c":"amber"},{"x":1.307,"y":-0.573,"c":"amber"},{"x":1.37,"y":-0.605,"c":"amber"},{"x":1.412,"y":-0.696,"c":"amber"},{"x":1.51,"y":-0.693,"c":"brown"},{"x":1.195,"y":-0.615,"c":"gray"},{"x":1.1,"y":-0.621,"c":"amber"},{"x":0.825,"y":-0.595,"c":"amber"},{"x":0.924,"y":-0.693,"c":"purple"},{"x":1.029,"y":-0.718,"c":"brown"},{"x":1.132,"y":-0.838,"c":"pink"},{"x":1,"y":-0.83,"c":"rust"},{"x":1.295,"y":-0.767,"c":"blue"},{"x":1.41,"y":-0.848,"c":"pink"},{"x":1.23,"y":-0.793,"c":"amber"},{"x":1.344,"y":-0.793,"c":"purple"},{"x":1.533,"y":-0.848,"c":"amber"},{"x":1.266,"y":-0.887,"c":"rust"},{"x":1.387,"y":-0.958,"c":"amber"},{"x":1.474,"y":-0.958,"c":"brown"},{"x":1.647,"y":-0.968,"c":"amber"},{"x":1.59,"y":-0.92,"c":"brown"},{"x":1.76,"y":-0.93,"c":"amber"},{"x":1.74,"y":-0.935,"c":"brown"},{"x":1.882,"y":-1.065,"c":"amber"},{"x":1.783,"y":-1.09,"c":"amber"},{"x":1.689,"y":-1.113,"c":"amber"},{"x":1.611,"y":-1.123,"c":"brown"},{"x":1.443,"y":-1.13,"c":"amber"},{"x":1.336,"y":-1.09,"c":"purple"},{"x":1.268,"y":-1.107,"c":"pink"},{"x":1.168,"y":-1.003,"c":"amber"},{"x":1.145,"y":-1.14,"c":"pink"},{"x":1.06,"y":-0.984,"c":"amber"},{"x":1.047,"y":-1.165,"c":"amber"},{"x":1.092,"y":-1.097,"c":"brown"},{"x":2.018,"y":-0.887,"c":"purple"},{"x":2.105,"y":-1.026,"c":"amber"},{"x":2.195,"y":-1.01,"c":"amber"},{"x":1.99,"y":-1.09,"c":"purple"},{"x":1.937,"y":-1.3,"c":"amber"},{"x":2.014,"y":-1.165,"c":"brown"},{"x":1.913,"y":-1.21,"c":"brown"},{"x":2.136,"y":-1.165,"c":"amber"},{"x":2.09,"y":-1.243,"c":"amber"},{"x":2.266,"y":-1.188,"c":"amber"},{"x":2.208,"y":-1.18,"c":"amber"},{"x":2.298,"y":-1.275,"c":"amber"},{"x":2.172,"y":-1.31,"c":"amber"},{"x":2.443,"y":-1.155,"c":"amber"},{"x":2.344,"y":-1.592,"c":"amber"},{"x":2.031,"y":-1.43,"c":"purple"},{"x":1.8,"y":-1.414,"c":"purple"},{"x":1.846,"y":-1.47,"c":"amber"},{"x":1.805,"y":-1.262,"c":"amber"},{"x":1.743,"y":-1.34,"c":"amber"},{"x":1.656,"y":-1.43,"c":"amber"},{"x":1.647,"y":-1.285,"c":"amber"},{"x":1.609,"y":-1.372,"c":"amber"},{"x":1.566,"y":-1.236,"c":"amber"},{"x":1.47,"y":-1.463,"c":"purple"},{"x":1.423,"y":-1.5,"c":"amber"},{"x":1.517,"y":-1.35,"c":"purple"},{"x":1.421,"y":-1.366,"c":"brown"},{"x":1.333,"y":-1.46,"c":"brown"},{"x":1.172,"y":-1.375,"c":"amber"},{"x":1.219,"y":-1.398,"c":"brown"},{"x":1.295,"y":-1.64,"c":"brown"},{"x":1.213,"y":-1.667,"c":"brown"},{"x":1.078,"y":-1.602,"c":"brown"},{"x":1.092,"y":-1.518,"c":"brown"},{"x":1.55,"y":-1.744,"c":"purple"},{"x":1.02,"y":-1.414,"c":"amber"},{"x":1.043,"y":-1.382,"c":"brown"},{"x":0.91,"y":-1.398,"c":"amber"},{"x":0.951,"y":-1.388,"c":"brown"},{"x":0.978,"y":-1.275,"c":"amber"},{"x":0.915,"y":-1.155,"c":"brown"},{"x":0.92,"y":-1.803,"c":"brown"},{"x":1.107,"y":-2.12,"c":"brown"},{"x":1.226,"y":-2.295,"c":"brown"},{"x":0.693,"y":-2.003,"c":"brown"},{"x":0.543,"y":-1.793,"c":"purple"},{"x":0.36,"y":-1.625,"c":"brown"},{"x":0.765,"y":-1.68,"c":"brown"},{"x":0.729,"y":-1.55,"c":"brown"},{"x":0.797,"y":-1.47,"c":"brown"},{"x":0.7,"y":-1.366,"c":"brown"},{"x":0.562,"y":-1.43,"c":"amber"},{"x":0.5,"y":-1.414,"c":"brown"},{"x":0.396,"y":-1.398,"c":"brown"},{"x":0.322,"y":-1.366,"c":"brown"},{"x":0.31,"y":-1.495,"c":"brown"},{"x":0.584,"y":-1.204,"c":"gray"},{"x":0.779,"y":-1.26,"c":"brown"},{"x":0.526,"y":-1.246,"c":"brown"},{"x":0.421,"y":-1.252,"c":"brown"},{"x":0.662,"y":-1.214,"c":"brown"},{"x":0.725,"y":-1.17,"c":"brown"},{"x":0.837,"y":-1.165,"c":"red"},{"x":0.367,"y":-1.09,"c":"brown"},{"x":0.508,"y":-1.14,"c":"brown"},{"x":0.617,"y":-1.074,"c":"purple"},{"x":0.779,"y":-1.08,"c":"brown"},{"x":0.767,"y":-0.977,"c":"purple"},{"x":0.843,"y":-0.994,"c":"purple"},{"x":0.897,"y":-0.854,"c":"pink"},{"x":0.613,"y":-0.903,"c":"amber"},{"x":0.532,"y":-0.864,"c":"amber"},{"x":0.421,"y":-0.848,"c":"gray"},{"x":0.372,"y":-0.767,"c":"red"},{"x":0.743,"y":-0.825,"c":"red"},{"x":0.783,"y":-0.857,"c":"pink"},{"x":0.68,"y":-0.712,"c":"pink"},{"x":0.622,"y":-0.654,"c":"blue"},{"x":0.445,"y":-0.75,"c":"pink"},{"x":0.535,"y":-0.696,"c":"red"},{"x":0.508,"y":-0.615,"c":"amber"},{"x":0.38,"y":-0.63,"c":"red"},{"x":0.327,"y":-0.615,"c":"pink"},{"x":0.418,"y":-0.508,"c":"pink"},{"x":0.611,"y":-0.492,"c":"pink"},{"x":0.71,"y":-0.508,"c":"gray"},{"x":0.676,"y":-0.563,"c":"purple"},{"x":0.445,"y":-0.379,"c":"red"},{"x":0.354,"y":-0.369,"c":"amber"},{"x":0.557,"y":-0.346,"c":"purple"},{"x":0.607,"y":-0.36,"c":"gray"},{"x":0.816,"y":-0.33,"c":"amber"},{"x":0.834,"y":-0.427,"c":"amber"},{"x":0.91,"y":-0.41,"c":"amber"},{"x":0.96,"y":-0.314,"c":"purple"},{"x":1,"y":-0.417,"c":"pink"},{"x":0.689,"y":-0.294,"c":"green"},{"x":0.78,"y":-0.233,"c":"red"},{"x":0.97,"y":-0.25,"c":"green"},{"x":1.056,"y":-0.298,"c":"gray"}
]},
"mark":{"type":"circle","size":375,"opacity":1,"stroke":"#ffffff","strokeWidth":1.5},
"encoding":{
"x":{"field":"x","type":"quantitative","title":null,"scale":{"domain":[-2,3],"nice":false,"zero":false},
"axis":{"values":[-2,-1,0,1,2,3],"domain":false,"ticks":false,"labelFont":"DejaVu Sans","labelFontSize":41,"labelColor":"#555555","labelPadding":26,"labelFlush":false,"labelOverlap":false,"format":"d","gridColor":"#444444","gridWidth":2,"gridDash":[4,12],"gridOpacity":{"condition":{"test":"datum.value == -2 || datum.value == 3","value":0},"value":1}}},
"y":{"field":"y","type":"quantitative","title":null,"scale":{"domain":[-4,3],"nice":false,"zero":false},
"axis":{"values":[-4,-3,-2,-1,0,1,2,3],"domain":false,"ticks":false,"labelFont":"DejaVu Sans","labelFontSize":41,"labelColor":"#555555","labelPadding":23,"labelFlush":false,"labelOverlap":false,"format":"d","gridColor":"#444444","gridWidth":2,"gridDash":[4,12],"gridOpacity":{"condition":{"test":"datum.value == -4 || datum.value == 3","value":0},"value":1}}},
"color":{"field":"c","type":"nominal","legend":null,"scale":{"domain":["red","blue","green","purple","amber","brown","rust","pink","gray","yellow"],"range":["#e41a1c","#4c72a6","#48a365","#7f6e85","#ffb716","#b95f4c","#cf6a4c","#ed87bd","#999999","#e1c62f"]}}
}
}
